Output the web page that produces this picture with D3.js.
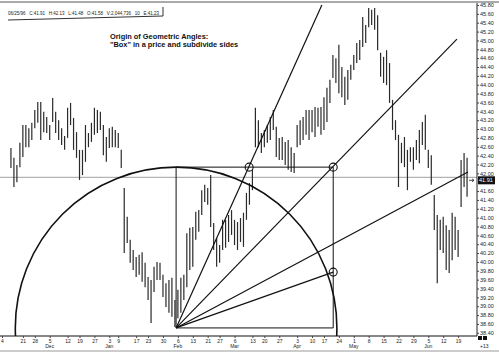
<!DOCTYPE html>
<html>
<head>
<meta charset="utf-8">
<script src="https://cdnjs.cloudflare.com/ajax/libs/d3/7.8.5/d3.min.js"></script>
<style>
    body { margin: 0; background: #fff; }
    svg { display: block; font-family: "Liberation Sans", Arial, sans-serif; }
</style>
</head>
<body>
<svg id="svg" width="499" height="355"></svg>
<script>
// daily high / low, first bar sits on trading day 3
var firstDay = 3;
var highs = [42.57, 42.35, 42.19, 42.69, 43.09, 43.09, 43.02, 43.14, 43.43, 43.61,
    43.61, 43.39, 43.27, 43.09, 43.70, 43.39, 43.20, 43.02, 42.84, 43.48,
    43.59, 43.25, 42.93, 42.53, 42.53, 43.09, 42.91, 43.14, 43.48, 43.43,
    43.39, 43.09, 42.82, 43.02, 43.05, 42.98, 42.91, 42.53,
    41.67, 41.02, 40.50, 40.27, 40.11, 40.16, 40.22, 39.98, 39.66, 39.59,
    39.89, 40.00, 39.98, 39.71, 39.52, 39.59, 39.64, 39.14, 39.37, 39.64,
    39.71, 40.65, 40.77, 40.79, 41.13, 41.17, 41.62, 41.74, 41.67, 41.96,
    40.88, 40.54, 40.38, 40.95, 40.95, 41.06, 41.17, 40.95, 40.90, 40.99,
    41.11, 41.56, 41.78, 42.08,
    43.48, 43.20, 42.91, 42.98, 43.09, 43.27, 43.43, 43.05, 42.80, 42.82,
    42.71, 42.75, 42.59, 42.46, 43.09, 43.20, 43.27, 43.43, 43.43, 43.43,
    43.50, 43.48, 43.50, 43.72, 43.93, 44.11, 44.67, 44.60, 44.90, 44.40,
    44.18, 44.33, 44.45, 44.67, 44.94, 45.01, 45.53, 45.35, 45.73, 45.69,
    45.73, 45.57, 44.72, 44.63, 44.78, 44.49, 43.66, 43.20, 42.87, 42.69,
    42.82, 42.53, 42.59, 42.59, 42.75, 42.98, 43.16, 43.32, 42.53, 42.41,
    41.51, 41.06, 40.95, 41.02, 40.83, 40.72, 41.11, 41.02, 40.72, 42.30,
    42.46, 42.35];
var lows = [42.12, 41.69, 41.80, 42.14, 42.37, 42.59, 42.59, 42.75, 43.02, 43.14,
    42.75, 42.93, 42.91, 42.75, 43.16, 42.91, 42.75, 42.64, 42.53, 42.80,
    43.09, 42.53, 42.35, 41.85, 41.96, 42.26, 42.59, 42.71, 42.87, 42.91,
    42.98, 42.41, 42.26, 42.57, 42.59, 42.59, 42.57, 42.12,
    40.20, 40.43, 39.98, 39.82, 39.66, 39.71, 39.55, 39.43, 39.14, 38.62,
    39.32, 39.59, 39.59, 39.21, 38.98, 38.85, 38.76, 38.53, 38.73, 38.85,
    39.14, 39.43, 39.82, 39.89, 40.50, 40.68, 41.06, 41.35, 41.29, 40.79,
    40.27, 39.89, 39.98, 40.27, 40.32, 40.45, 40.61, 40.38, 40.27, 40.45,
    40.34, 40.95, 41.29, 41.62,
    42.59, 42.59, 42.46, 42.59, 42.69, 42.75, 42.98, 42.37, 42.30, 42.30,
    42.19, 42.08, 42.03, 42.01, 42.59, 42.64, 42.75, 42.87, 42.75, 42.93,
    42.82, 43.05, 42.87, 42.98, 43.16, 43.59, 44.15, 44.04, 43.81, 43.72,
    43.54, 43.66, 44.11, 44.33, 44.49, 44.56, 44.85, 44.94, 45.30, 45.35,
    45.24, 44.78, 44.18, 44.04, 43.99, 43.59, 42.98, 42.75, 41.69, 42.23,
    42.14, 41.62, 42.26, 42.08, 42.30, 42.23, 42.64, 42.53, 42.12, 41.74,
    40.72, 39.52, 40.27, 40.20, 39.82, 39.75, 40.04, 40.27, 40.11, 41.24,
    41.69, 41.47];

// axis ticks
var tickDays = [0, 7, 11, 16, 22, 26, 31, 36, 39, 45, 49, 54, 59, 64, 69, 73, 78, 84, 88, 93,
    99, 104, 108, 113, 118, 123, 128, 133, 138, 143, 148, 153];
var tickLabels = ["4", "21", "28", "5", "12", "19", "27", "3", "9", "17", "23", "30", "6", "13", "21", "27", "6",
    "13", "20", "27", "3", "10", "17", "24", "1", "8", "15", "22", "29", "5", "12", "19"];
var monthDays = [16, 36, 59, 78, 99, 118, 143];
var monthNames = ["Dec", "Jan", "Feb", "Mar", "Apr", "May", "Jun"];
var priceTicks = [45.8, 45.6, 45.4, 45.2, 45.0, 44.8, 44.6, 44.4, 44.2, 44.0, 43.8, 43.6, 43.4,
    43.2, 43.0, 42.8, 42.6, 42.4, 42.2, 42.0, 41.6, 41.4, 41.2, 41.0, 40.8, 40.6, 40.4,
    40.2, 40.0, 39.8, 39.6, 39.4, 39.2, 39.0, 38.8, 38.6, 38.4];
var lastClose = 41.91;
var header = "06/25/96   C:41.91   H:42.13   L:41.48   O:41.58   V:2,044,736   10   E:41.23";

// geometry: origin at the Feb low, box to the top/right, rays through subdivisions
var origin = [58.4, 38.51];
var boxCorner = [111.1, 42.14];
var rayEnds = [[107.3, 45.80], [152.6, 45.03], [156.3, 42.03], [111.1, 39.77]];
var markPts = [[82.9, 42.14], [111.1, 42.14], [111.1, 39.77]];

var svg = d3.select("#svg");
var plotRight = 477, axisY = 336;

var x = d3.scaleLinear().domain([0, 159]).range([2, 476]);
var y = d3.scaleLinear().domain([38.40, 45.80]).range([332.8, 5]);

svg.append("rect").attr("width", 499).attr("height", 355).attr("fill", "#fff");

// scan frame lines
svg.append("line").attr("x1", 0).attr("x2", 499).attr("y1", 2).attr("y2", 2)
        .attr("stroke", "#aaa").attr("stroke-width", 2);
svg.append("line").attr("x1", 0).attr("x2", 499).attr("y1", 351).attr("y2", 351)
        .attr("stroke", "#bbb").attr("stroke-width", 1.5);

svg.append("clipPath").attr("id", "plot")
        .append("rect").attr("x", 0).attr("y", 3).attr("width", plotRight).attr("height", axisY - 3);

var plot = svg.append("g").attr("clip-path", "url(#plot)");

// current price line
plot.append("line")
        .attr("x1", 0).attr("x2", plotRight)
        .attr("y1", y(lastClose)).attr("y2", y(lastClose))
        .attr("stroke", "#888").attr("stroke-width", 0.8);

// price bars
var bars = highs.map((h, i) => {
    return {day: firstDay + i, high: h, low: lows[i]};
});
plot.selectAll("line.bar")
        .data(bars)
        .enter()
        .append("line")
        .attr("class", "bar")
        .attr("x1", (d) => x(d.day)).attr("x2", (d) => x(d.day))
        .attr("y1", (d) => y(d.high)).attr("y2", (d) => y(d.low))
        .attr("stroke", "#2a2a2a").attr("stroke-width", 1.2);

var ox = x(origin[0]), oy = y(origin[1]);
var bx = x(boxCorner[0]), by = y(boxCorner[1]);

// the box
plot.append("path")
        .attr("d", "M" + ox + "," + oy + "V" + by + "H" + bx + "V" + oy + "Z")
        .attr("fill", "none").attr("stroke", "#111").attr("stroke-width", 1);

// circle with radius = box height
plot.append("circle")
        .attr("cx", ox).attr("cy", oy).attr("r", oy - by)
        .attr("fill", "none").attr("stroke", "#111").attr("stroke-width", 1.6);

// angle rays
plot.selectAll("line.ray")
        .data(rayEnds)
        .enter()
        .append("line")
        .attr("class", "ray")
        .attr("x1", ox).attr("y1", oy)
        .attr("x2", (d) => x(d[0])).attr("y2", (d) => y(d[1]))
        .attr("stroke", "#111").attr("stroke-width", 1.2);

// little circles where rays hit the box
plot.selectAll("circle.mark")
        .data(markPts)
        .enter()
        .append("circle")
        .attr("class", "mark")
        .attr("cx", (d) => x(d[0])).attr("cy", (d) => y(d[1]))
        .attr("r", 4)
        .attr("fill", "none").attr("stroke", "#111").attr("stroke-width", 1.1);

// right price axis
var yAxis = d3.axisRight(y)
        .tickValues(priceTicks)
        .tickSize(2)
        .tickPadding(1)
        .tickFormat(d3.format(".2f"));
var ya = svg.append("g").attr("transform", "translate(" + plotRight + ",0)").call(yAxis);
ya.select(".domain").attr("d", "M0,3V" + axisY).attr("stroke", "#222");
ya.selectAll("line").attr("stroke", "#444");
ya.selectAll("text").attr("font-size", 5.5).attr("fill", "#222")
        .attr("font-family", "Liberation Sans, Arial, sans-serif");

// last price marker
var ly = y(lastClose) + 3;
svg.append("rect").attr("x", 478).attr("y", ly - 4).attr("width", 17).attr("height", 8).attr("fill", "#111");
svg.append("text").attr("x", 479).attr("y", ly + 2).attr("font-size", 5.5).attr("fill", "#fff")
        .text(lastClose.toFixed(2));
svg.append("path").attr("d", "M469," + ly + "H474M472," + (ly - 1.5) + "L474," + ly + "L472," + (ly + 1.5))
        .attr("stroke", "#222").attr("fill", "none").attr("stroke-width", 0.8);

// bottom date axis
var xAxis = d3.axisBottom(x)
        .tickValues(tickDays)
        .tickSize(2)
        .tickPadding(1)
        .tickFormat((d, i) => tickLabels[i]);
var xa = svg.append("g").attr("transform", "translate(0," + axisY + ")").call(xAxis);
xa.select(".domain").attr("d", "M0,0H" + plotRight).attr("stroke", "#111");
xa.selectAll("line").attr("stroke", "#444");
xa.selectAll("text").attr("font-size", 5).attr("fill", "#222")
        .attr("font-family", "Liberation Sans, Arial, sans-serif");

svg.selectAll("text.month")
        .data(monthDays)
        .enter()
        .append("text")
        .attr("class", "month")
        .attr("x", (d) => x(d)).attr("y", 348)
        .attr("text-anchor", "middle")
        .attr("font-size", 5).attr("fill", "#222")
        .text((d, i) => monthNames[i]);

// corner junk under the price axis
svg.append("rect").attr("x", 478).attr("y", 336).attr("width", 4).attr("height", 4).attr("fill", "#111");
svg.append("rect").attr("x", 483).attr("y", 336).attr("width", 4).attr("height", 4).attr("fill", "#111");
svg.append("text").attr("x", 480).attr("y", 348).attr("font-size", 5).attr("fill", "#222").text("+13");

// header strip
svg.append("text").attr("x", 8).attr("y", 15).attr("font-size", 4.5).attr("fill", "#222")
        .attr("xml:space", "preserve").style("white-space", "pre")
        .text(header);
svg.append("path").attr("d", "M8,20L163,16V7")
        .attr("stroke", "#333").attr("fill", "none").attr("stroke-width", 1);

// title
svg.append("text").attr("x", 110).attr("y", 39)
        .attr("font-size", 7.4).attr("font-weight", "bold").attr("fill", "#111")
        .text("Origin of Geometric Angles:");
svg.append("text").attr("x", 110).attr("y", 47)
        .attr("font-size", 7.4).attr("font-weight", "bold").attr("fill", "#111")
        .text("\"Box\" in a price and subdivide sides");
</script>
</body>
</html>
